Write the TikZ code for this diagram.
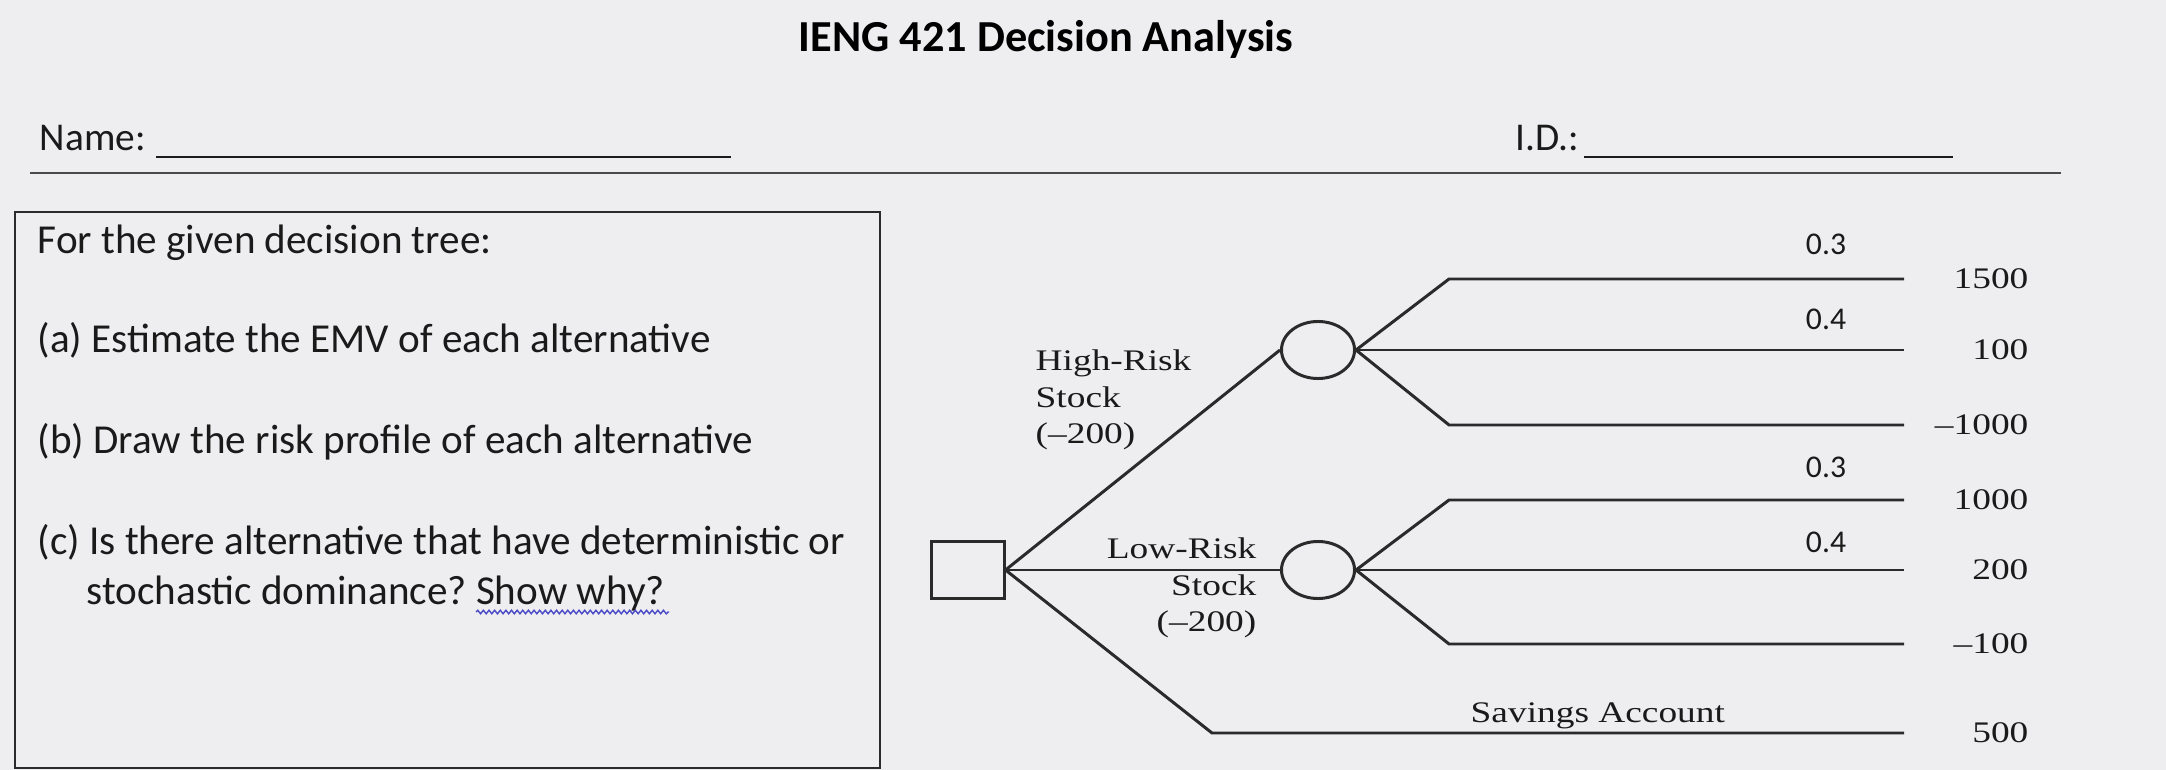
\documentclass[tikz,border=0pt]{standalone}
\usepackage{fontspec}
\setmainfont{Carlito}
\newfontfamily\treefont[FakeStretch=1.25]{Liberation Serif}
\usepackage{tikz}
\usetikzlibrary{shapes.geometric,decorations.pathmorphing}
\frenchspacing
\definecolor{pageBg}{HTML}{EEEEF0}
\definecolor{inkP}{HTML}{1A1A1A}
\definecolor{inkT}{HTML}{2A2A2A}
\definecolor{inkR}{HTML}{4A4A4A}
\definecolor{spellB}{HTML}{4B4BC8}
\tikzset{
  headtext/.style={font=\fontsize{11.2}{13}\selectfont, color=inkP, inner sep=0pt, anchor=base west},
  sheettext/.style={font=\fontsize{11.7}{14}\selectfont, color=inkP, inner sep=0pt, anchor=base west},
  decnode/.style={draw=inkT, line width=0.85pt, minimum width=0.72cm, minimum height=0.57cm, inner sep=0pt},
  chancenode/.style={ellipse, draw=inkT, line width=0.85pt, minimum width=0.73cm, minimum height=0.57cm, inner sep=0pt},
  branch/.style={inkT, line width=0.85pt},
  altlab/.style={font=\treefont\fontsize{8.5}{10.4}\selectfont, color=inkP, inner sep=0pt},
  payoff/.style={font=\treefont\fontsize{8.5}{10}\selectfont, color=inkP, inner sep=0pt, anchor=east},
  problab/.style={font=\fontsize{9}{11}\selectfont, color=inkP, inner sep=0pt},
}

\begin{document}
\begin{tikzpicture}[x=0.01cm, y=-0.01cm]
  \useasboundingbox (0,0) rectangle (2166,770);
  \fill[pageBg] (0,0) rectangle (2166,770);
  % header
  \node[font=\fontsize{12.6}{15}\selectfont\bfseries, color=black, inner sep=0pt, anchor=base]
    (title) at (1046,52) {IENG 421 Decision Analysis};
  \node[headtext] (name) at (39,151) {Name:};
  \node[headtext] (id) at (1515,151) {I.D.:};
  \draw[inkP, line width=0.5pt] (156,157) -- (731,157);
  \draw[inkP, line width=0.5pt] (1584,157) -- (1953,157);
  \draw[inkR, line width=0.8pt] (30,173) -- (2061,173);
  % question box
  \draw[inkT, line width=0.55pt] (15,212) rectangle (880,768);
  \node[sheettext] (q0) at (37,254) {For the given decision tree:};
  \node[sheettext] (qa) at (37,353) {(a) Estimate the EMV of each alternative};
  \node[sheettext] (qb) at (37,453) {(b) Draw the risk profile of each alternative};
  \node[sheettext] (qc) at (37,554) {(c) Is there alternative that have deterministic or};
  \node[sheettext] (qd) at (86,604) {stochastic dominance? Show why?};
  \draw[spellB, line width=0.4pt, decorate,
        decoration={snake, amplitude=0.5pt, segment length=1.6pt}] (476,612) -- (669,612);
  % decision tree
  \node[decnode] (dec) at (968,570) {};
  \node[chancenode] (hi) at (1318,350) {};
  \node[chancenode] (lo) at (1318,570) {};
  \coordinate (sv) at (1212,733);
  \foreach \y/\n in {279/ha, 350/hb, 425/hc, 500/la, 570/lb, 644/lc, 733/se}
    \coordinate (\n) at (1904,\y);
  \draw[branch] (dec.east) -- (hi.west);
  \draw[branch] (dec.east) -- (lo.west);
  \draw[branch] (dec.east) -- (sv) -- (se);
  \draw[branch] (hi.east) -- ++(93,-71) -- (ha);
  \draw[branch] (hi.east) -- (hb);
  \draw[branch] (hi.east) -- ++(93,75) -- (hc);
  \draw[branch] (lo.east) -- ++(93,-70) -- (la);
  \draw[branch] (lo.east) -- (lb);
  \draw[branch] (lo.east) -- ++(93,74) -- (lc);
  % branch labels
  \node[altlab, anchor=north west, align=left] (hrs) at (1035,349) {High-Risk\\Stock\\(–200)};
  \node[altlab, anchor=north east, align=right] (lrs) at (1257,537) {Low-Risk\\Stock\\(–200)};
  \node[altlab, anchor=base west] (sav) at (1470,722) {Savings Account};
  \node[problab] (p1) at (1826,244) {0.3};
  \node[problab] (p2) at (1826,319) {0.4};
  \node[problab] (p3) at (1826,467) {0.3};
  \node[problab] (p4) at (1826,542) {0.4};
  % payoffs
  \foreach \n/\v in {ha/1500, hb/100, hc/–1000, la/1000, lb/200, lc/–100, se/500}
    \node[payoff] (v\n) at ([xshift=1.25cm]\n) {\v};
\end{tikzpicture}
\end{document}
